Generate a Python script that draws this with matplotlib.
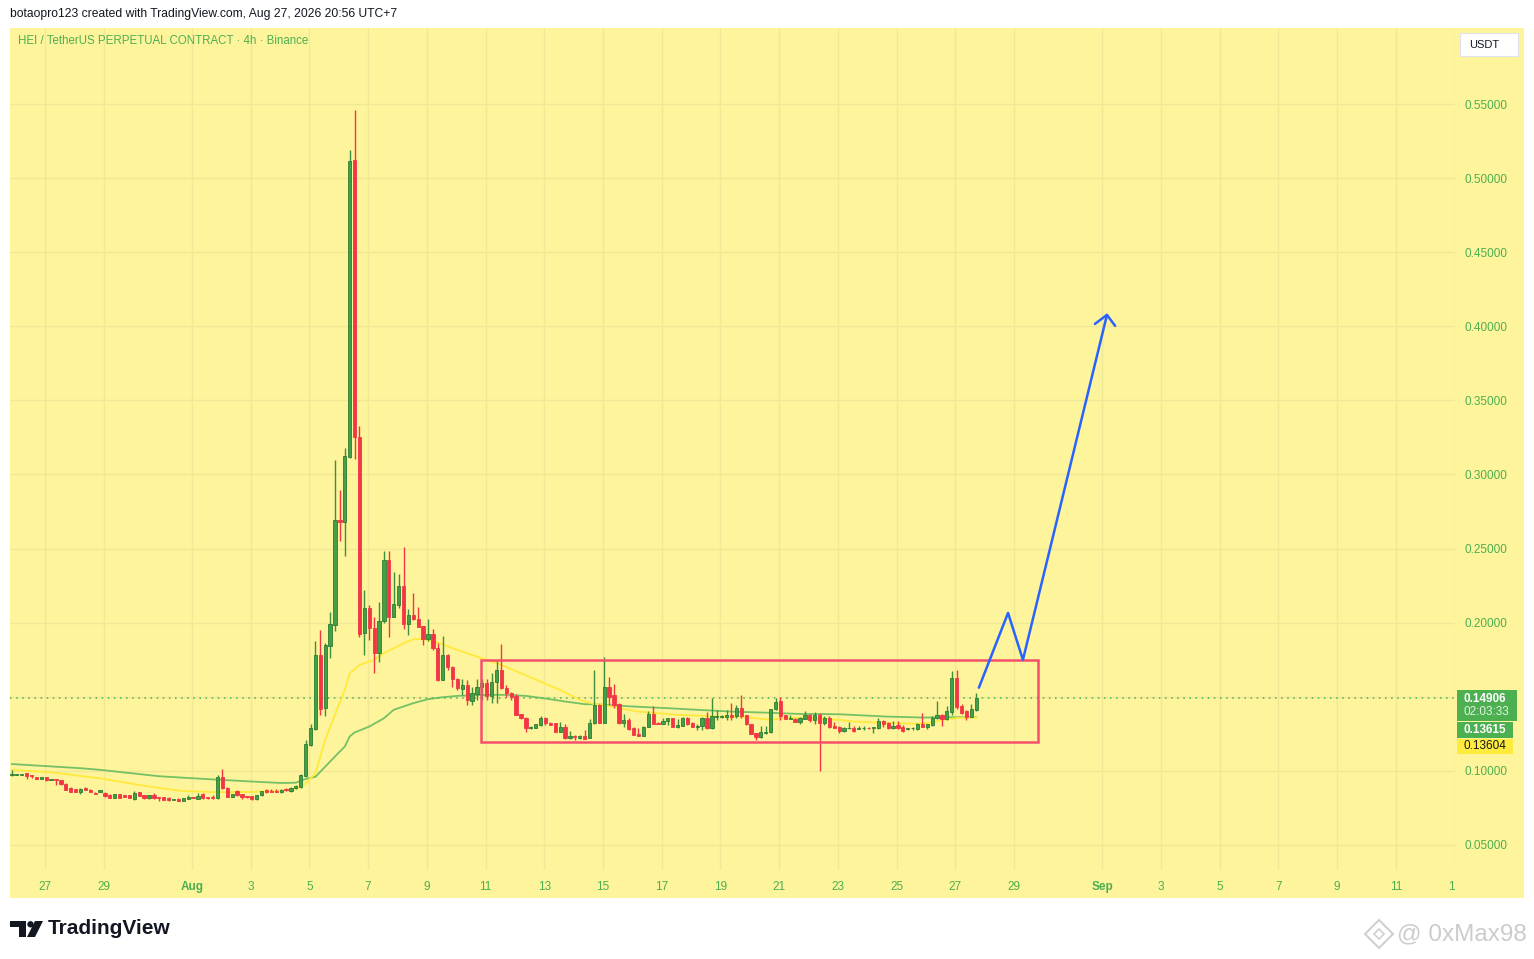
import matplotlib
matplotlib.use("Agg")
import matplotlib.pyplot as plt
import matplotlib.dates as mdates
from matplotlib.patches import Rectangle, Circle, Polygon
from matplotlib.transforms import Bbox, TransformedBbox
import numpy as np
import pandas as pd

plt.rcParams['font.family'] = ['Liberation Sans', 'DejaVu Sans']

# HEI / USDT perpetual, 4h candles
first_candle = "2026-07-25 21:00"

opens = [
    0.0973, 0.0973, 0.0973, 0.0984, 0.0973, 0.0959, 0.0946, 0.0959, 0.0939, 0.0940,
    0.0935, 0.0914, 0.0887, 0.0876, 0.0856, 0.0883, 0.0874, 0.0852, 0.0860, 0.0852,
    0.0840, 0.0820, 0.0845, 0.0836, 0.0836, 0.0807, 0.0858, 0.0836, 0.0814, 0.0838,
    0.0821, 0.0821, 0.0814, 0.0805, 0.0812, 0.0796, 0.0809, 0.0823, 0.0809, 0.0841,
    0.0823, 0.0825, 0.0814, 0.0960, 0.0886, 0.0825, 0.0861, 0.0841, 0.0830, 0.0830,
    0.0807, 0.0834, 0.0868, 0.0863, 0.0865, 0.0854, 0.0876, 0.0861, 0.0881, 0.0894,
    0.0966, 0.1175, 0.1281, 0.1783, 0.1423, 0.1843, 0.1985, 0.2695, 0.2677, 0.3117,
    0.5125, 0.3252, 0.1933, 0.2098, 0.1963, 0.1794, 0.2008, 0.2424, 0.2041, 0.2119,
    0.2248, 0.1992, 0.2053, 0.2023, 0.1976, 0.1891, 0.1922, 0.1832, 0.1614, 0.1783,
    0.1699, 0.1623, 0.1553, 0.1580, 0.1473, 0.1518, 0.1565, 0.1596, 0.1506, 0.1599,
    0.1681, 0.1558, 0.1528, 0.1506, 0.1382, 0.1360, 0.1286, 0.1291, 0.1308, 0.1360,
    0.1326, 0.1320, 0.1265, 0.1295, 0.1220, 0.1232, 0.1220, 0.1236, 0.1223, 0.1322,
    0.1445, 0.1326, 0.1569, 0.1510, 0.1451, 0.1322, 0.1344, 0.1292, 0.1250, 0.1238,
    0.1297, 0.1382, 0.1326, 0.1317, 0.1335, 0.1355, 0.1297, 0.1304, 0.1360, 0.1326,
    0.1299, 0.1304, 0.1360, 0.1286, 0.1366, 0.1366, 0.1366, 0.1375, 0.1371, 0.1427,
    0.1375, 0.1315, 0.1254, 0.1229, 0.1254, 0.1259, 0.1416, 0.1470, 0.1375, 0.1351,
    0.1353, 0.1333, 0.1353, 0.1378, 0.1342, 0.1378, 0.1326, 0.1360, 0.1301, 0.1297,
    0.1268, 0.1286, 0.1290, 0.1284, 0.1286, 0.1292, 0.1288, 0.1286, 0.1337, 0.1326,
    0.1288, 0.1308, 0.1297, 0.1283, 0.1286, 0.1281, 0.1315, 0.1297, 0.1310, 0.1355,
    0.1378, 0.1349, 0.1400, 0.1630, 0.1441, 0.1405, 0.1366, 0.1411,
]
highs = [
    0.1005, 0.0978, 0.0980, 0.0986, 0.0975, 0.0961, 0.0959, 0.0961, 0.0948, 0.0942,
    0.0937, 0.0916, 0.0889, 0.0878, 0.0885, 0.0890, 0.0876, 0.0854, 0.0871, 0.0854,
    0.0842, 0.0845, 0.0847, 0.0838, 0.0838, 0.0867, 0.0860, 0.0838, 0.0838, 0.0849,
    0.0823, 0.0823, 0.0821, 0.0811, 0.0814, 0.0818, 0.0834, 0.0825, 0.0850, 0.0850,
    0.0825, 0.0834, 0.0969, 0.1014, 0.0888, 0.0847, 0.0874, 0.0843, 0.0832, 0.0832,
    0.0840, 0.0863, 0.0879, 0.0879, 0.0876, 0.0876, 0.0883, 0.0889, 0.0903, 0.0980,
    0.1209, 0.1318, 0.1873, 0.1951, 0.1861, 0.2075, 0.3096, 0.2894, 0.3179, 0.5187,
    0.5459, 0.3325, 0.2221, 0.2121, 0.2037, 0.2140, 0.2484, 0.2484, 0.2341, 0.2329,
    0.2512, 0.2091, 0.2199, 0.2106, 0.1980, 0.2023, 0.1956, 0.1866, 0.1911, 0.1790,
    0.1705, 0.1628, 0.1618, 0.1614, 0.1569, 0.1618, 0.1618, 0.1618, 0.1659, 0.1749,
    0.1855, 0.1580, 0.1532, 0.1520, 0.1386, 0.1364, 0.1303, 0.1317, 0.1367, 0.1364,
    0.1330, 0.1324, 0.1333, 0.1317, 0.1268, 0.1245, 0.1240, 0.1274, 0.1349, 0.1681,
    0.1449, 0.1771, 0.1636, 0.1587, 0.1455, 0.1382, 0.1355, 0.1296, 0.1292, 0.1301,
    0.1405, 0.1439, 0.1330, 0.1355, 0.1359, 0.1359, 0.1349, 0.1366, 0.1364, 0.1330,
    0.1315, 0.1364, 0.1398, 0.1491, 0.1411, 0.1380, 0.1411, 0.1456, 0.1445, 0.1513,
    0.1379, 0.1319, 0.1258, 0.1302, 0.1301, 0.1420, 0.1491, 0.1500, 0.1379, 0.1375,
    0.1357, 0.1364, 0.1405, 0.1382, 0.1394, 0.1389, 0.1371, 0.1371, 0.1333, 0.1301,
    0.1294, 0.1328, 0.1306, 0.1301, 0.1301, 0.1296, 0.1294, 0.1360, 0.1341, 0.1330,
    0.1337, 0.1337, 0.1308, 0.1292, 0.1299, 0.1320, 0.1389, 0.1319, 0.1371, 0.1472,
    0.1382, 0.1441, 0.1675, 0.1680, 0.1452, 0.1409, 0.1452, 0.1524,
]
lows = [
    0.0968, 0.0970, 0.0971, 0.0946, 0.0955, 0.0946, 0.0944, 0.0933, 0.0937, 0.0903,
    0.0906, 0.0870, 0.0858, 0.0856, 0.0845, 0.0872, 0.0856, 0.0845, 0.0858, 0.0822,
    0.0816, 0.0818, 0.0818, 0.0821, 0.0814, 0.0805, 0.0827, 0.0812, 0.0812, 0.0812,
    0.0798, 0.0801, 0.0794, 0.0803, 0.0794, 0.0794, 0.0807, 0.0814, 0.0807, 0.0812,
    0.0812, 0.0812, 0.0812, 0.0879, 0.0821, 0.0823, 0.0832, 0.0812, 0.0819, 0.0805,
    0.0805, 0.0832, 0.0852, 0.0854, 0.0857, 0.0852, 0.0861, 0.0859, 0.0879, 0.0887,
    0.0957, 0.1170, 0.1276, 0.1378, 0.1373, 0.1760, 0.1944, 0.2553, 0.2449, 0.3109,
    0.3102, 0.1906, 0.1783, 0.1884, 0.1663, 0.1738, 0.2000, 0.1906, 0.2036, 0.2098,
    0.1956, 0.1918, 0.2018, 0.1969, 0.1850, 0.1873, 0.1817, 0.1607, 0.1610, 0.1681,
    0.1569, 0.1546, 0.1513, 0.1445, 0.1445, 0.1479, 0.1479, 0.1479, 0.1457, 0.1461,
    0.1553, 0.1497, 0.1479, 0.1374, 0.1351, 0.1261, 0.1282, 0.1287, 0.1301, 0.1311,
    0.1307, 0.1261, 0.1261, 0.1216, 0.1216, 0.1207, 0.1216, 0.1214, 0.1219, 0.1318,
    0.1322, 0.1322, 0.1445, 0.1423, 0.1318, 0.1299, 0.1279, 0.1239, 0.1234, 0.1234,
    0.1293, 0.1313, 0.1313, 0.1313, 0.1310, 0.1293, 0.1290, 0.1300, 0.1308, 0.1293,
    0.1277, 0.1277, 0.1282, 0.1282, 0.1344, 0.1360, 0.1344, 0.1344, 0.1360, 0.1360,
    0.1311, 0.1246, 0.1207, 0.1225, 0.1250, 0.1255, 0.1412, 0.1342, 0.1349, 0.1347,
    0.1329, 0.1315, 0.1349, 0.1331, 0.1319, 0.1001, 0.1308, 0.1292, 0.1288, 0.1254,
    0.1264, 0.1282, 0.1264, 0.1280, 0.1279, 0.1282, 0.1254, 0.1282, 0.1299, 0.1284,
    0.1281, 0.1284, 0.1264, 0.1279, 0.1279, 0.1277, 0.1293, 0.1281, 0.1304, 0.1349,
    0.1304, 0.1345, 0.1378, 0.1416, 0.1385, 0.1340, 0.1362, 0.1407,
]
closes = [
    0.0975, 0.0976, 0.0978, 0.0964, 0.0962, 0.0948, 0.0957, 0.0935, 0.0946, 0.0938,
    0.0908, 0.0872, 0.0860, 0.0858, 0.0876, 0.0874, 0.0858, 0.0847, 0.0869, 0.0829,
    0.0818, 0.0843, 0.0820, 0.0823, 0.0816, 0.0852, 0.0829, 0.0814, 0.0836, 0.0814,
    0.0814, 0.0803, 0.0805, 0.0809, 0.0796, 0.0816, 0.0823, 0.0816, 0.0832, 0.0814,
    0.0814, 0.0814, 0.0960, 0.0881, 0.0823, 0.0845, 0.0834, 0.0821, 0.0821, 0.0807,
    0.0838, 0.0861, 0.0854, 0.0856, 0.0859, 0.0874, 0.0868, 0.0887, 0.0901, 0.0973,
    0.1182, 0.1288, 0.1783, 0.1416, 0.1850, 0.1992, 0.2695, 0.2677, 0.3122, 0.5117,
    0.3252, 0.1926, 0.2098, 0.1963, 0.1794, 0.2012, 0.2424, 0.2041, 0.2127, 0.2248,
    0.1992, 0.2053, 0.2023, 0.1973, 0.1891, 0.1922, 0.1828, 0.1614, 0.1783, 0.1699,
    0.1618, 0.1558, 0.1580, 0.1479, 0.1523, 0.1569, 0.1596, 0.1506, 0.1603, 0.1681,
    0.1558, 0.1524, 0.1497, 0.1378, 0.1355, 0.1288, 0.1299, 0.1313, 0.1360, 0.1322,
    0.1311, 0.1265, 0.1295, 0.1220, 0.1232, 0.1227, 0.1236, 0.1218, 0.1322, 0.1445,
    0.1326, 0.1569, 0.1497, 0.1445, 0.1322, 0.1344, 0.1283, 0.1243, 0.1238, 0.1297,
    0.1382, 0.1317, 0.1317, 0.1335, 0.1355, 0.1297, 0.1310, 0.1360, 0.1317, 0.1297,
    0.1304, 0.1360, 0.1286, 0.1369, 0.1369, 0.1371, 0.1375, 0.1366, 0.1427, 0.1371,
    0.1315, 0.1250, 0.1227, 0.1259, 0.1265, 0.1416, 0.1467, 0.1371, 0.1353, 0.1353,
    0.1333, 0.1360, 0.1378, 0.1344, 0.1378, 0.1326, 0.1360, 0.1299, 0.1292, 0.1270,
    0.1290, 0.1292, 0.1268, 0.1290, 0.1292, 0.1286, 0.1290, 0.1337, 0.1317, 0.1288,
    0.1306, 0.1288, 0.1268, 0.1288, 0.1292, 0.1315, 0.1297, 0.1315, 0.1355, 0.1378,
    0.1349, 0.1405, 0.1630, 0.1434, 0.1392, 0.1362, 0.1416, 0.14906,
]

last_price = 0.14906
countdown = "02:03:33"
fast_ma_label = "0.13604"
slow_ma_label = "0.13615"

# moving average lines, sampled at candle index
fast_idx = [0, 8, 18, 25, 30, 35, 42, 49, 55, 58, 60, 62, 64, 66, 68, 69, 70, 71,
            74, 76, 78, 80, 82, 84, 87, 91, 96, 100, 104, 108, 112, 116, 119, 121,
            124, 128, 132, 136, 140, 145, 149, 153, 155, 158, 161, 165, 169, 172,
            177, 181, 185, 188, 190, 193, 197]
fast_val = [0.1007, 0.0990, 0.0950, 0.0910, 0.0885, 0.0864, 0.0856, 0.0858, 0.0866,
            0.0877, 0.0915, 0.0984, 0.1209, 0.1380, 0.1546, 0.1659, 0.1686, 0.1715,
            0.1749, 0.1794, 0.1828, 0.1861, 0.1888, 0.1890, 0.1866, 0.1816, 0.1760,
            0.1715, 0.1659, 0.1602, 0.1547, 0.1479, 0.1450, 0.1445, 0.1423, 0.1400,
            0.1389, 0.1378, 0.1373, 0.1366, 0.1366, 0.1351, 0.1344, 0.1358, 0.1358,
            0.1351, 0.1344, 0.1333, 0.1326, 0.1322, 0.1317, 0.1326, 0.1344, 0.1356,
            0.13604]
slow_idx = [0, 14, 18, 30, 38, 49, 55, 58, 60, 62, 66, 68, 69, 70, 73, 76, 78, 82,
            85, 88, 91, 97, 101, 105, 109, 113, 117, 120, 127, 134, 140, 147, 154,
            161, 169, 179, 186, 193, 197]
slow_val = [0.1046, 0.1018, 0.1007, 0.0964, 0.0948, 0.0928, 0.0918, 0.0920, 0.0945,
            0.0960, 0.1097, 0.1164, 0.1232, 0.1259, 0.1299, 0.1355, 0.1412, 0.1457,
            0.1484, 0.1497, 0.1506, 0.1513, 0.1513, 0.1506, 0.1488, 0.1468, 0.1450,
            0.1448, 0.1434, 0.1423, 0.1412, 0.1400, 0.1393, 0.1384, 0.1382, 0.1366,
            0.1360, 0.1362, 0.13615]

# axes ticks
tick_dates = ["2026-07-27", "2026-07-29", "2026-08-01", "2026-08-03", "2026-08-05",
              "2026-08-07", "2026-08-09", "2026-08-11", "2026-08-13", "2026-08-15",
              "2026-08-17", "2026-08-19", "2026-08-21", "2026-08-23", "2026-08-25",
              "2026-08-27", "2026-08-29", "2026-09-01", "2026-09-03", "2026-09-05",
              "2026-09-07", "2026-09-09", "2026-09-11", "2026-09-13"]
tick_labels = ["27", "29", "Aug", "3", "5", "7", "9", "11", "13", "15", "17", "19",
               "21", "23", "25", "27", "29", "Sep", "3", "5", "7", "9", "11", "13"]
y_ticks = [0.05, 0.10, 0.15, 0.20, 0.25, 0.30, 0.35, 0.40, 0.45, 0.50, 0.55]
y_labels = ["0.05000", "0.10000", "", "0.20000", "0.25000", "0.30000", "0.35000",
            "0.40000", "0.45000", "0.50000", "0.55000"]

# drawings on the chart
box_times = ["2026-08-10 20:15", "2026-08-29 19:30"]
box_prices = [0.1198, 0.1749]
path_times = ["2026-08-27 19:10", "2026-08-28 19:00", "2026-08-29 07:10", "2026-09-01 03:50"]
path_prices = [0.1561, 0.2066, 0.1749, 0.4077]
head_times = ["2026-08-31 18:00", "2026-09-01 03:50", "2026-09-01 10:30"]
head_prices = [0.4016, 0.4077, 0.4003]

# ---- style ----
bg = '#fef49c'
gridc = '#f1e897'
green_txt = '#4caf50'
up_col, up_edge = '#43a047', '#2e7d32'
dn_col = '#f23645'

W, H = 1534, 959
fig = plt.figure(figsize=(W / 100, H / 100), dpi=100, facecolor='white')
fig.add_artist(Rectangle((10 / W, 1 - 898 / H), 1514 / W, 870 / H,
                         transform=fig.transFigure, fc=bg, ec='none', zorder=-5))
ax = fig.add_axes([10 / W, 1 - 870 / H, 1445 / W, 842 / H])
ax.set_facecolor(bg)

def dnum(s):
    return mdates.date2num(pd.Timestamp(s))

t = pd.date_range(first_candle, periods=len(closes), freq='4h')
tx = mdates.date2num(t.to_pydatetime())
o, h, l, c = (np.array(v) for v in (opens, highs, lows, closes))
up = c >= o

ax.vlines(tx, l, h, colors=np.where(up, '#3b913f', dn_col), lw=1, zorder=3)
ax.bar(tx, np.maximum(np.abs(c - o), 0.0006), bottom=np.minimum(o, c), width=0.11,
       color=np.where(up, up_col, dn_col), edgecolor=np.where(up, up_edge, dn_col),
       lw=0.6, zorder=4)

ax.plot(tx[slow_idx], slow_val, color='#5cb85c', lw=1.3, alpha=0.85, zorder=2.6)
ax.plot(tx[fast_idx], fast_val, color='#ffe93b', lw=1.3, zorder=2.7)

ax.axhline(last_price, color='#4caf50', lw=1.1, ls=(0, (1, 3)), zorder=2.5)

# range box and projected path
bx0, bx1 = dnum(box_times[0]), dnum(box_times[1])
ax.add_patch(Rectangle((bx0, box_prices[0]), bx1 - bx0, box_prices[1] - box_prices[0],
                       fill=False, ec='#f5506a', lw=1.8, zorder=5))
ax.plot([dnum(s) for s in path_times], path_prices, color='#2962ff', lw=1.8,
        zorder=6, solid_capstyle='round', solid_joinstyle='round')
ax.plot([dnum(s) for s in head_times], head_prices, color='#2962ff', lw=1.8,
        zorder=6, solid_capstyle='round', solid_joinstyle='round')

ax.set_xlim(dnum("2026-07-25 19:25"), dnum("2026-09-13 00:15"))
ax.set_ylim(0.0331, 0.6013)

ax.yaxis.tick_right()
ax.set_yticks(y_ticks, y_labels)
ax.set_xticks([dnum(s) for s in tick_dates], tick_labels)
ax.tick_params(axis='y', length=0, pad=7, labelsize=8.5, labelcolor=green_txt)
ax.tick_params(axis='x', length=0, pad=8, labelsize=8.5, labelcolor=green_txt)
ax.grid(True, color=gridc, lw=1)
ax.set_axisbelow(True)
for sp in ax.spines.values():
    sp.set_visible(False)

clip = TransformedBbox(Bbox([[0, 0], [1455 / W, 1]]), fig.transFigure)
for lbl in ax.get_xticklabels():
    if lbl.get_text() in ("Aug", "Sep"):
        lbl.set_fontweight('bold')
    lbl.set_clip_box(clip)
    lbl.set_clip_on(True)

# overlay in pixel coordinates for the chrome around the chart
ov = fig.add_axes([0, 0, 1, 1], zorder=10)
ov.set_xlim(0, W)
ov.set_ylim(H, 0)
ov.axis('off')
ov.patch.set_alpha(0)

ov.text(10, 14, "botaopro123 created with TradingView.com, Aug 27, 2026 20:56 UTC+7",
        fontsize=8.7, color='#131722', va='center', ha='left')
ov.text(18, 41, "HEI / TetherUS PERPETUAL CONTRACT · 4h · Binance",
        fontsize=8.3, color=green_txt, va='center', ha='left')

ov.add_patch(Rectangle((1460, 33), 58, 23, fc='white', ec='#e0e3eb', lw=0.8))
ov.text(1469, 44.5, "USDT", fontsize=8, color='#131722', va='center', ha='left')

ov.add_patch(Rectangle((1457, 690), 60, 31, fc='#4caf50', ec='none'))
ov.text(1464, 698.5, f"{last_price:.5f}", fontsize=8.5, color='white',
        fontweight='bold', va='center', ha='left')
ov.text(1464, 712, countdown, fontsize=8.5, color='#e3f3e3', va='center', ha='left')
ov.add_patch(Rectangle((1457, 722), 56, 15.5, fc='#4caf50', ec='none'))
ov.text(1464, 729.8, slow_ma_label, fontsize=8.5, color='white',
        fontweight='bold', va='center', ha='left')
ov.add_patch(Rectangle((1457, 738.5), 56, 15.5, fc='#ffeb3b', ec='none'))
ov.text(1464, 746.3, fast_ma_label, fontsize=8.5, color='#131722',
        va='center', ha='left')

# TradingView logo + name
ov.add_patch(Polygon([(10, 921), (26, 921), (26, 927), (10, 927)], fc='#131722', ec='none'))
ov.add_patch(Polygon([(19, 921), (26, 921), (26, 937), (19, 937)], fc='#131722', ec='none'))
ov.add_patch(Circle((30.5, 924.3), 3.2, fc='#131722', ec='none'))
ov.add_patch(Polygon([(35, 921), (43, 921), (35, 937), (27, 937)], fc='#131722', ec='none'))
ov.text(48, 929, "TradingView", fontsize=15, fontweight='bold', color='#131722',
        va='center', ha='left')

# watermark
ov.add_patch(Polygon([(1379, 920), (1393, 934), (1379, 948), (1365, 934)],
                     fill=False, ec='#d0d0d0', lw=1.5))
ov.add_patch(Polygon([(1379, 929), (1384, 934), (1379, 939), (1374, 934)],
                     fill=False, ec='#d0d0d0', lw=1.2))
ov.text(1397, 934, "@ 0xMax98", fontsize=17.5, color='#cccccc', va='center', ha='left')

fig.savefig("out.png", dpi=100, facecolor='white')
